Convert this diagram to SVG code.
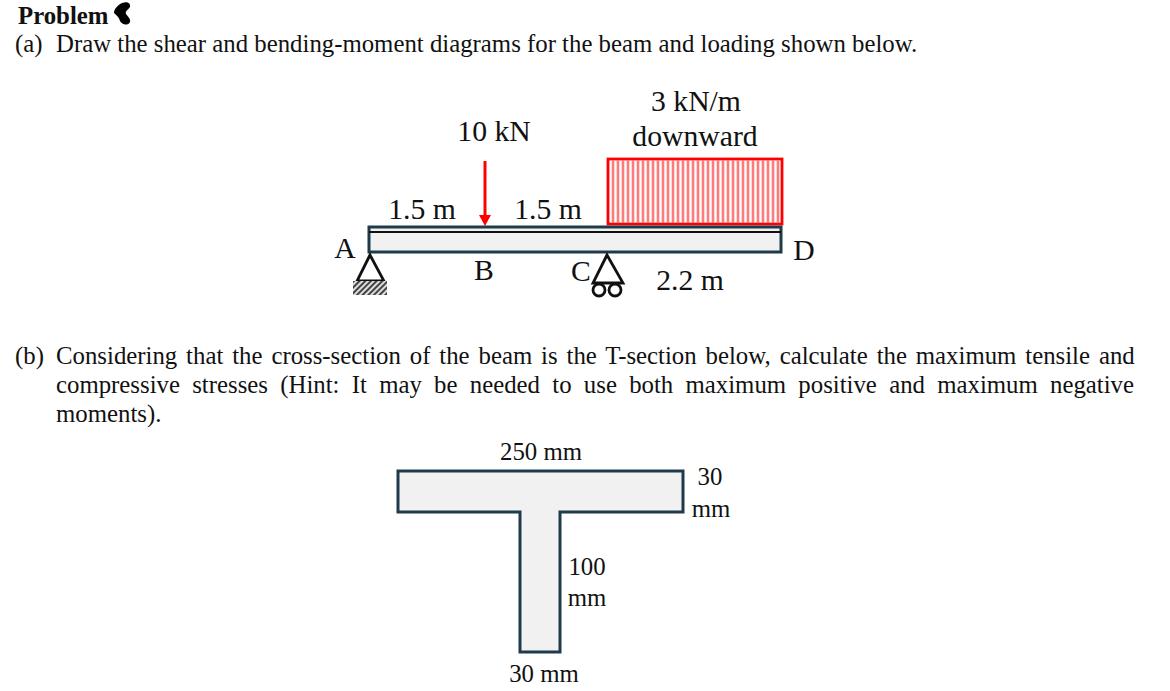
<svg xmlns="http://www.w3.org/2000/svg" width="1170" height="691" viewBox="0 0 1170 691">
<style>
text{font-family:"Liberation Serif","Times New Roman",serif;fill:#111;font-size:24.8px}
.m{text-anchor:middle}
.b{font-size:29.7px}
.s{fill:#f1f1f1;stroke:#1f3a4a;stroke-width:3}
.k{fill:none;stroke:#111;stroke-width:2.8}
.h{stroke:#ff7a7a;stroke-width:2.6;fill:none}
</style>
<defs>
<pattern id="hatch" width="4" height="4" patternUnits="userSpaceOnUse" patternTransform="rotate(45)"><rect width="4" height="4" fill="#ddd"/><rect width="2" height="4" fill="#444"/></pattern>
</defs>
<rect width="1170" height="691" fill="#fff"/>
<g id="text-a">
<text x="18" y="24" font-weight="bold">Problem</text>
<path d="M122 3C127 1 131 3 130 7C128 10 125 11 126 14C128 17 131 19 130 22C128 26 122 25 120 21C119 17 116 15 114 13C114 9 118 5 122 3Z" fill="#000"/>
<text x="15" y="52">(a)</text><text x="56" y="52">Draw the shear and bending-moment diagrams for the beam and loading shown below.</text>
</g>
<g id="distributed-load">
<rect x="608" y="159" width="174" height="65" fill="#fff" stroke="#f00" stroke-width="2.8"/>
<path class="h" d="M613 160V223M618 160V223M623 160V223M628 160V223M633 160V223M638 160V223M643 160V223M648 160V223M653 160V223M658 160V223M663 160V223M668 160V223M673 160V223M678 160V223M683 160V223M688 160V223M693 160V223M698 160V223M703 160V223M708 160V223M713 160V223M718 160V223M723 160V223M728 160V223M733 160V223M738 160V223M743 160V223M748 160V223M753 160V223M758 160V223M763 160V223M768 160V223M773 160V223M778 160V223"/>
</g>
<g id="point-load">
<path d="M485 161V217" stroke="#f00" stroke-width="3" fill="none"/>
<path d="M479 215H491L485 226Z" fill="#f00"/>
</g>
<g id="beam">
<rect class="s" x="369" y="227" width="412" height="25"/>
<path d="M369 232H781" stroke="#111" stroke-width="2"/>
</g>
<g id="support-a">
<path class="k" d="M370 255L357 281H384Z"/>
<rect x="353" y="281" width="34" height="14" fill="url(#hatch)"/>
</g>
<g id="support-c">
<path class="k" d="M607 255L593 283H623Z"/>
<circle class="k" cx="599" cy="290" r="6"/><circle class="k" cx="615" cy="290" r="6"/>
</g>
<g id="labels">
<text class="m b" x="696" y="111">3 kN/m</text>
<text class="m b" x="695" y="146">downward</text>
<text class="m b" x="494" y="141">10 kN</text>
<text class="m b" x="422" y="219">1.5 m</text>
<text class="m b" x="548" y="219">1.5 m</text>
<text class="m b" x="345" y="258">A</text>
<text class="m b" x="484" y="280">B</text>
<text class="m b" x="581" y="281">C</text>
<text class="m b" x="804" y="260">D</text>
<text class="m b" x="690" y="290">2.2 m</text>
</g>
<g id="text-b">
<text x="15" y="364">(b)</text>
<text x="56" y="364" style="word-spacing:2.7px">Considering that the cross-section of the beam is the T-section below, calculate the maximum tensile and</text>
<text x="56" y="393" style="word-spacing:6.07px">compressive stresses (Hint: It may be needed to use both maximum positive and maximum negative</text>
<text x="56" y="422">moments).</text>
</g>
<g id="t-section">
<path class="s" d="M398 471H683V512H560V652H520V512H398Z"/>
</g>
<g id="section-labels">
<text class="m" x="541" y="460">250 mm</text>
<text class="m" x="710" y="485">30</text>
<text class="m" x="711" y="517">mm</text>
<text class="m" x="587" y="575">100</text>
<text class="m" x="587" y="606">mm</text>
<text class="m" x="544" y="682">30 mm</text>
</g>
</svg>
